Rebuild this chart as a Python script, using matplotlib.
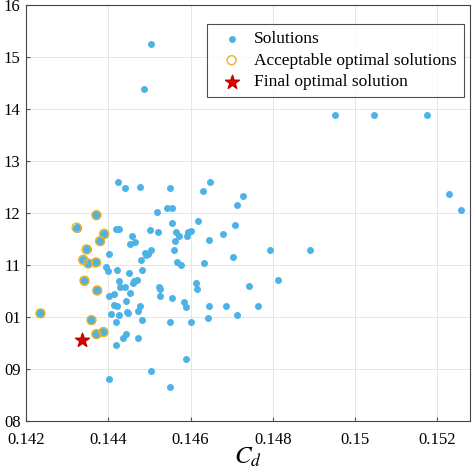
import matplotlib
matplotlib.use("Agg")
import matplotlib.pyplot as plt

sol_x = [0.14423,0.14440,0.14478,0.14550,0.14519,0.14542,0.14555,0.14618,0.14555,0.14419,0.14427,0.14502,0.14521,0.14564,0.14572,0.14593,0.14602,0.14592,0.14457,0.14465,0.14453,0.14562,0.14560,0.14401,0.14488,0.14497,0.14503,0.14491,0.14479,0.14566,0.14576,0.14394,0.14399,0.14422,0.14451,0.14482,0.14427,0.14463,0.14469,0.14461,0.14429,0.14441,0.14452,0.14524,0.14526,0.14525,0.14556,0.14401,0.14415,0.14444,0.14413,0.14422,0.14476,0.14471,0.14445,0.14448,0.14406,0.14427,0.14483,0.14419,0.14550,0.14602,0.14614,0.14615,0.14584,0.14589,0.14443,0.14436,0.14473,0.14419,0.14589,0.14504,0.14401,0.14550,
         0.14648,0.14631,0.14728,0.14713,0.14707,0.14679,0.14645,0.14794,0.14890,0.14704,0.14632,0.14813,0.14743,0.14644,0.14685,0.14764,0.14712,0.14642,
         0.14503,0.14486,0.14952,0.15045,0.15176,0.15229,0.15258]
sol_y = [12.60,12.49,12.50,12.49,12.03,12.09,12.09,11.85,11.80,11.70,11.70,11.67,11.64,11.63,11.55,11.64,11.65,11.55,11.55,11.45,11.40,11.46,11.29,11.22,11.24,11.21,11.29,11.19,11.09,11.06,11.01,10.97,10.88,10.90,10.84,10.90,10.69,10.69,10.72,10.65,10.58,10.58,10.46,10.58,10.53,10.41,10.37,10.40,10.45,10.30,10.24,10.21,10.21,10.12,10.10,10.07,10.06,10.04,9.94,9.90,9.90,9.90,10.65,10.54,10.29,10.19,9.67,9.59,9.59,9.46,9.20,8.97,8.81,8.65,
         12.59,12.42,12.33,12.15,11.77,11.60,11.49,11.29,11.29,11.16,11.03,10.72,10.59,10.22,10.22,10.22,10.04,9.99,
         15.26,14.39,13.89,13.89,13.89,12.37,12.06]
acc_x = [0.14371,0.14323,0.14390,0.14380,0.14347,0.14339,0.14351,0.14370,0.14342,0.14373,0.14235,0.14359,0.14371,0.14388]
acc_y = [11.96,11.72,11.60,11.46,11.30,11.10,11.03,11.05,10.70,10.51,10.07,9.94,9.67,9.71]
final_x = [0.14337]
final_y = [9.56]
xticks = [0.142,0.144,0.146,0.148,0.150,0.152]
xtick_labels = ["0.142","0.144","0.146","0.148","0.15","0.152"]
yticks = [16,15,14,13,12,11,10,9,8]
ytick_labels = ["16","15","14","13","12","11","01","09","08"]

plt.rcParams['font.family'] = ['Liberation Serif', 'DejaVu Serif']
plt.rcParams['mathtext.fontset'] = 'stix'
fig = plt.figure(figsize=(4.74,4.74), dpi=100)
ax = fig.add_axes([0.055, 0.112, 0.937, 0.877])
blue = '#4DB3E6'
ax.scatter(acc_x, acc_y, s=30, c=blue, zorder=2)
ax.scatter(sol_x, sol_y, s=16, c=blue, label='Solutions', zorder=3)
ax.scatter(acc_x, acc_y, s=42, facecolors='none', edgecolors='#EDB120', linewidths=1.0,
           label='Acceptable optimal solutions', zorder=4)
ax.scatter(final_x, final_y, s=110, marker='*', c='#E00000', edgecolors='#C00000',
           label='Final optimal solution', zorder=5)
ax.set_xlim(0.142, 0.1528)
ax.set_ylim(8, 16)
ax.set_xticks(xticks)
ax.set_xticklabels(xtick_labels, fontsize=12)
ax.set_yticks(yticks)
ax.set_yticklabels(ytick_labels, fontsize=12)
ax.tick_params(direction='in', length=3, color='#555555')
ax.tick_params(axis='x', pad=8)
ax.tick_params(axis='y', pad=4)
ax.grid(True, color='#E6E6E6', linewidth=0.7)
ax.set_axisbelow(True)
for s in ax.spines.values():
    s.set_color('#444444'); s.set_linewidth(0.8)
ax.set_xlabel('$C_d$', fontsize=18, labelpad=-2)
leg = ax.legend(loc='upper right', fontsize=12.5, frameon=True, fancybox=False,
                edgecolor='#222222', handletextpad=0.3, borderpad=0.4, labelspacing=0.3,
                bbox_to_anchor=(1.005, 0.975))
leg.get_frame().set_linewidth(0.8)
fig.savefig('out.png', dpi=100)
